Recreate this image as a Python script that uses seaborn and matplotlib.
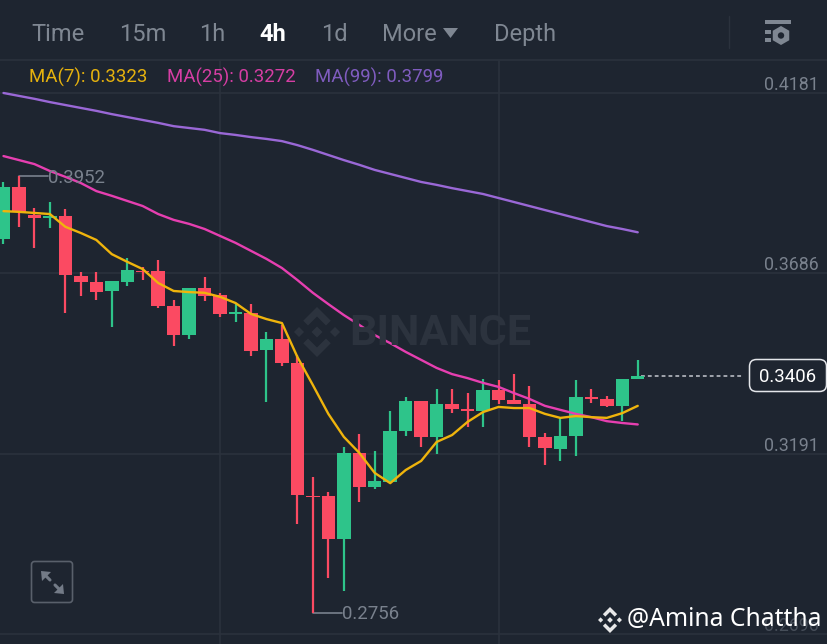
import matplotlib
matplotlib.use("Agg")
import matplotlib.pyplot as plt
from matplotlib.patches import FancyBboxPatch, Polygon, Rectangle
import numpy as np
import pandas as pd
import seaborn as sns

# ---- data (prices) ----
opens = [.3781,.3923,.3846,.3838,.3844,.3679,.3663,.3638,.3663,.3693,.3693,.3597,.3517,.3646,.3627,.3575,.3578,.3476,.3506,.3441,.3076,.3076,.2958,.3194,.3100,.3114,.3254,.3336,.3238,.3328,.3314,.3309,.3367,.3339,.3328,.3238,.3205,.3240,.3347,.3342,.3323,.3397]
highs = [.3937,.3952,.3866,.3882,.3863,.3690,.3690,.3665,.3729,.3704,.3723,.3613,.3646,.3676,.3633,.3602,.3602,.3526,.3545,.3462,.3128,.3087,.3210,.3246,.3199,.3309,.3347,.3336,.3369,.3369,.3358,.3397,.3394,.3410,.3377,.3249,.3290,.3394,.3369,.3350,.3397,.3449]
lows = [.3767,.3814,.3756,.3811,.3578,.3624,.3613,.3539,.3652,.3668,.3591,.3487,.3506,.3611,.3567,.3553,.3460,.3334,.3432,.2999,.2756,.2851,.2815,.3059,.3095,.3111,.3240,.3210,.3191,.3303,.3265,.3265,.3328,.3328,.3210,.3161,.3172,.3186,.3331,.3320,.3281,.3397]
closes = [.3923,.3855,.3838,.3844,.3682,.3663,.3635,.3665,.3696,.3690,.3597,.3517,.3646,.3624,.3575,.3580,.3473,.3506,.3441,.3079,.3073,.2958,.3194,.3100,.3117,.3254,.3336,.3238,.3328,.3314,.3309,.3367,.3339,.3328,.3238,.3207,.3240,.3347,.3342,.3323,.3397,.3405]
ma7 = [.3857,.3855,.3852,.3849,.3814,.3797,.3778,.3739,.3718,.3698,.3660,.3638,.3635,.3633,.3622,.3605,.3575,.3561,.3550,.3457,.3380,.3301,.3238,.3194,.3139,.3111,.3147,.3172,.3224,.3243,.3279,.3306,.3320,.3317,.3317,.3301,.3290,.3295,.3292,.3290,.3303,.3323]
ma25 = [.4008,.3997,.3986,.3967,.3951,.3934,.3912,.3899,.3885,.3871,.3849,.3833,.3822,.3808,.3789,.3770,.3748,.3726,.3701,.3668,.3633,.3602,.3572,.3545,.3517,.3495,.3471,.3449,.3427,.3410,.3399,.3386,.3375,.3358,.3342,.3323,.3312,.3301,.3292,.3281,.3276,.3272]
ma99 = [.4181,.4173,.4165,.4156,.4148,.4140,.4132,.4123,.4115,.4107,.4099,.4090,.4085,.4080,.4071,.4066,.4060,.4055,.4049,.4038,.4025,.4011,.3997,.3984,.3970,.3959,.3948,.3937,.3929,.3920,.3912,.3904,.3893,.3882,.3871,.3860,.3849,.3838,.3827,.3816,.3808,.3799]
price_ticks = [.4181, .3686, .3191, .2696]
tick_labels = ["0.4181", "0.3686", "0.3191", "0.2696"]
grid_candles = [14, 32]
last_price = .3406
high_mark = .3952
low_mark = .2756
tabs = ["Time", "15m", "1h", "4h", "1d", "More", "Depth"]
ma_labels = ["MA(7): 0.3323", "MA(25): 0.3272", "MA(99): 0.3799"]

# ---- style ----
BG = "#1e2530"
GRID = "#2b323d"
GREEN = "#2ec48a"
RED = "#fb4a62"
MUTED = "#79818d"
TAB = "#7f8792"
sns.set_theme(style="dark", rc={"axes.facecolor": BG, "figure.facecolor": BG})
plt.rcParams["font.family"] = ["Roboto", "DejaVu Sans"]

fig = plt.figure(figsize=(8.28, 6.44), dpi=100, facecolor=BG)
ax = fig.add_axes([0, 0, 1, 1], facecolor=BG)

df = pd.DataFrame({"i": np.arange(len(opens)), "open": opens, "high": highs, "low": lows,
                   "close": closes, "ma7": ma7, "ma25": ma25, "ma99": ma99})
df["color"] = np.where(df["close"] >= df["open"], GREEN, RED)

# grid
for p in price_ticks:
    ax.axhline(p, color=GRID, lw=1.2, zorder=1)
for c in grid_candles:
    ax.axvline(c + 0.02, ymin=0, ymax=(644 - 61) / 644, color=GRID, lw=1.2, zorder=1)

# candles
ax.vlines(df["i"], df["low"], df["high"], colors=df["color"], lw=1.6, zorder=3)
ax.bar(df["i"], (df["close"] - df["open"]).abs(), bottom=df[["open", "close"]].min(axis=1),
       width=0.87, color=df["color"], linewidth=0, zorder=3)

# moving averages
sns.lineplot(data=df, x="i", y="ma99", ax=ax, color="#9a68d6", lw=1.7, zorder=4, errorbar=None)
sns.lineplot(data=df, x="i", y="ma25", ax=ax, color="#e63fb0", lw=1.7, zorder=4, errorbar=None)
sns.lineplot(data=df, x="i", y="ma7", ax=ax, color="#efb40c", lw=1.7, zorder=5, errorbar=None)

ax.set_xlim(-0.226, 53.3)
ax.set_ylim(0.26699, 0.44360)
ax.set_xlabel("")
ax.set_ylabel("")
ax.set_xticks([])
ax.set_yticks([])
for s in ax.spines.values():
    s.set_visible(False)

# high / low / last markers
ax.plot([1, 2.9], [high_mark, high_mark], color=MUTED, lw=1.2, zorder=2)
ax.annotate("0.3952", (2.9, high_mark), xytext=(0, -1.2), textcoords="offset points",
            color=MUTED, fontsize=13.4, va="center", ha="left", zorder=6)
ax.plot([20, 21.9], [low_mark, low_mark], color=MUTED, lw=1.2, zorder=2)
ax.annotate("0.2756", (21.9, low_mark), xytext=(0, -1.2), textcoords="offset points",
            color=MUTED, fontsize=13.4, va="center", ha="left", zorder=6)
ax.plot([41.2, 47.8], [last_price, last_price], color="#c4c8cf", lw=1.1, ls=(0, (2.5, 2)), zorder=2)

# price labels
for p, lab in zip(price_ticks, tick_labels):
    a = 0.45 if lab == "0.2696" else 1
    ax.annotate(lab, (1, p), xycoords=("axes fraction", "data"), xytext=(-7, 5.8),
                textcoords="offset points", ha="right", va="center", color=MUTED,
                fontsize=12.8, alpha=a, zorder=6)

# ---- UI overlay, pixel coordinates ----
ui = fig.add_axes([0, 0, 1, 1], facecolor="none", zorder=10)
ui.set_xlim(0, 828)
ui.set_ylim(644, 0)
ui.axis("off")

ui.plot([0, 828], [60, 60], color=GRID, lw=1.2)
ui.plot([729, 729], [16, 48], color=GRID, lw=1.0)

tab_x = [31, 119, 199, 259, 321, 382, 494]
for x, t in zip(tab_x, tabs):
    ui.text(x, 34, t, color="#ffffff" if t == "4h" else TAB, fontsize=17,
            fontweight="bold" if t == "4h" else "normal", va="center", ha="left")
ui.add_patch(Polygon([[443, 28], [458, 28], [450.5, 38]], closed=True, color=TAB, lw=0))

# settings icon
ui.add_patch(Rectangle((765, 20), 26, 3.5, color=TAB, lw=0))
ui.add_patch(Rectangle((765, 29.5), 6, 4, color=TAB, lw=0))
ui.add_patch(Rectangle((765, 37.5), 6, 4, color=TAB, lw=0))
ang = np.deg2rad(np.arange(30, 390, 60))
ui.add_patch(Polygon(np.c_[781 + 9.5 * np.cos(ang), 35.5 + 9.5 * np.sin(ang)], closed=True, color=TAB, lw=0))
ui.add_patch(plt.Circle((781, 35.5), 3.2, color=BG, lw=0))

# MA legend
for x, t, c in zip([29, 167, 315], ma_labels, ["#e6b20e", "#d63ea4", "#7f5cbf"]):
    ui.text(x, 77.5, t, color=c, fontsize=13.4, va="center", ha="left")

# last price box
ui.add_patch(FancyBboxPatch((749.5, 359.5), 77, 32, boxstyle="round,pad=0,rounding_size=7",
                            fc=BG, ec="#e4e6ea", lw=1.1, mutation_aspect=1, zorder=3))
ui.text(788, 376.5, "0.3406", color="#ffffff", fontsize=13.4, va="center", ha="center", zorder=4)

# expand button
ui.add_patch(FancyBboxPatch((31.5, 561.5), 41, 41, boxstyle="round,pad=0,rounding_size=3",
                            fc="none", ec="#59606b", lw=1.2))
ui.add_patch(Polygon([[41, 571], [51, 572], [42, 581]], closed=True, color="#737b87", lw=0))
ui.add_patch(Polygon([[64, 594], [54, 593], [63, 584]], closed=True, color="#737b87", lw=0))
ui.plot([45, 50], [575, 580], color="#737b87", lw=2.2)
ui.plot([55, 60], [585, 590], color="#737b87", lw=2.2)


def logo(cx, cy, s, color, alpha=1.0):
    def diamond(dx, dy, r):
        ui.add_patch(Polygon([[cx + dx, cy + dy - r], [cx + dx + r, cy + dy], [cx + dx, cy + dy + r],
                              [cx + dx - r, cy + dy]], closed=True, color=color, lw=0, alpha=alpha, zorder=2))
    diamond(0, 0, 0.22 * s)
    diamond(-0.72 * s, 0, 0.2 * s)
    diamond(0.72 * s, 0, 0.2 * s)
    for sy in (-1, 1):
        ui.add_patch(Polygon([[cx, cy + sy * s], [cx + 0.55 * s, cy + sy * 0.45 * s],
                              [cx + 0.36 * s, cy + sy * 0.26 * s], [cx, cy + sy * 0.62 * s],
                              [cx - 0.36 * s, cy + sy * 0.26 * s], [cx - 0.55 * s, cy + sy * 0.45 * s]],
                             closed=True, color=color, lw=0, alpha=alpha, zorder=2))


# centre watermark
logo(317, 332, 25, "#2c333e")
ui.text(349, 333, "BINANCE", color="#2c333e", fontsize=31, fontweight="bold", va="center", ha="left", zorder=2)

# corner credit
logo(610, 620, 13, "#e8e8e8")
ui.text(627, 620, "@Amina Chattha", color="#ffffff", fontsize=17.8, va="center", ha="left",
        family=["Noto Sans", "DejaVu Sans"], zorder=7)

fig.savefig("out.png", dpi=100, facecolor=BG)
